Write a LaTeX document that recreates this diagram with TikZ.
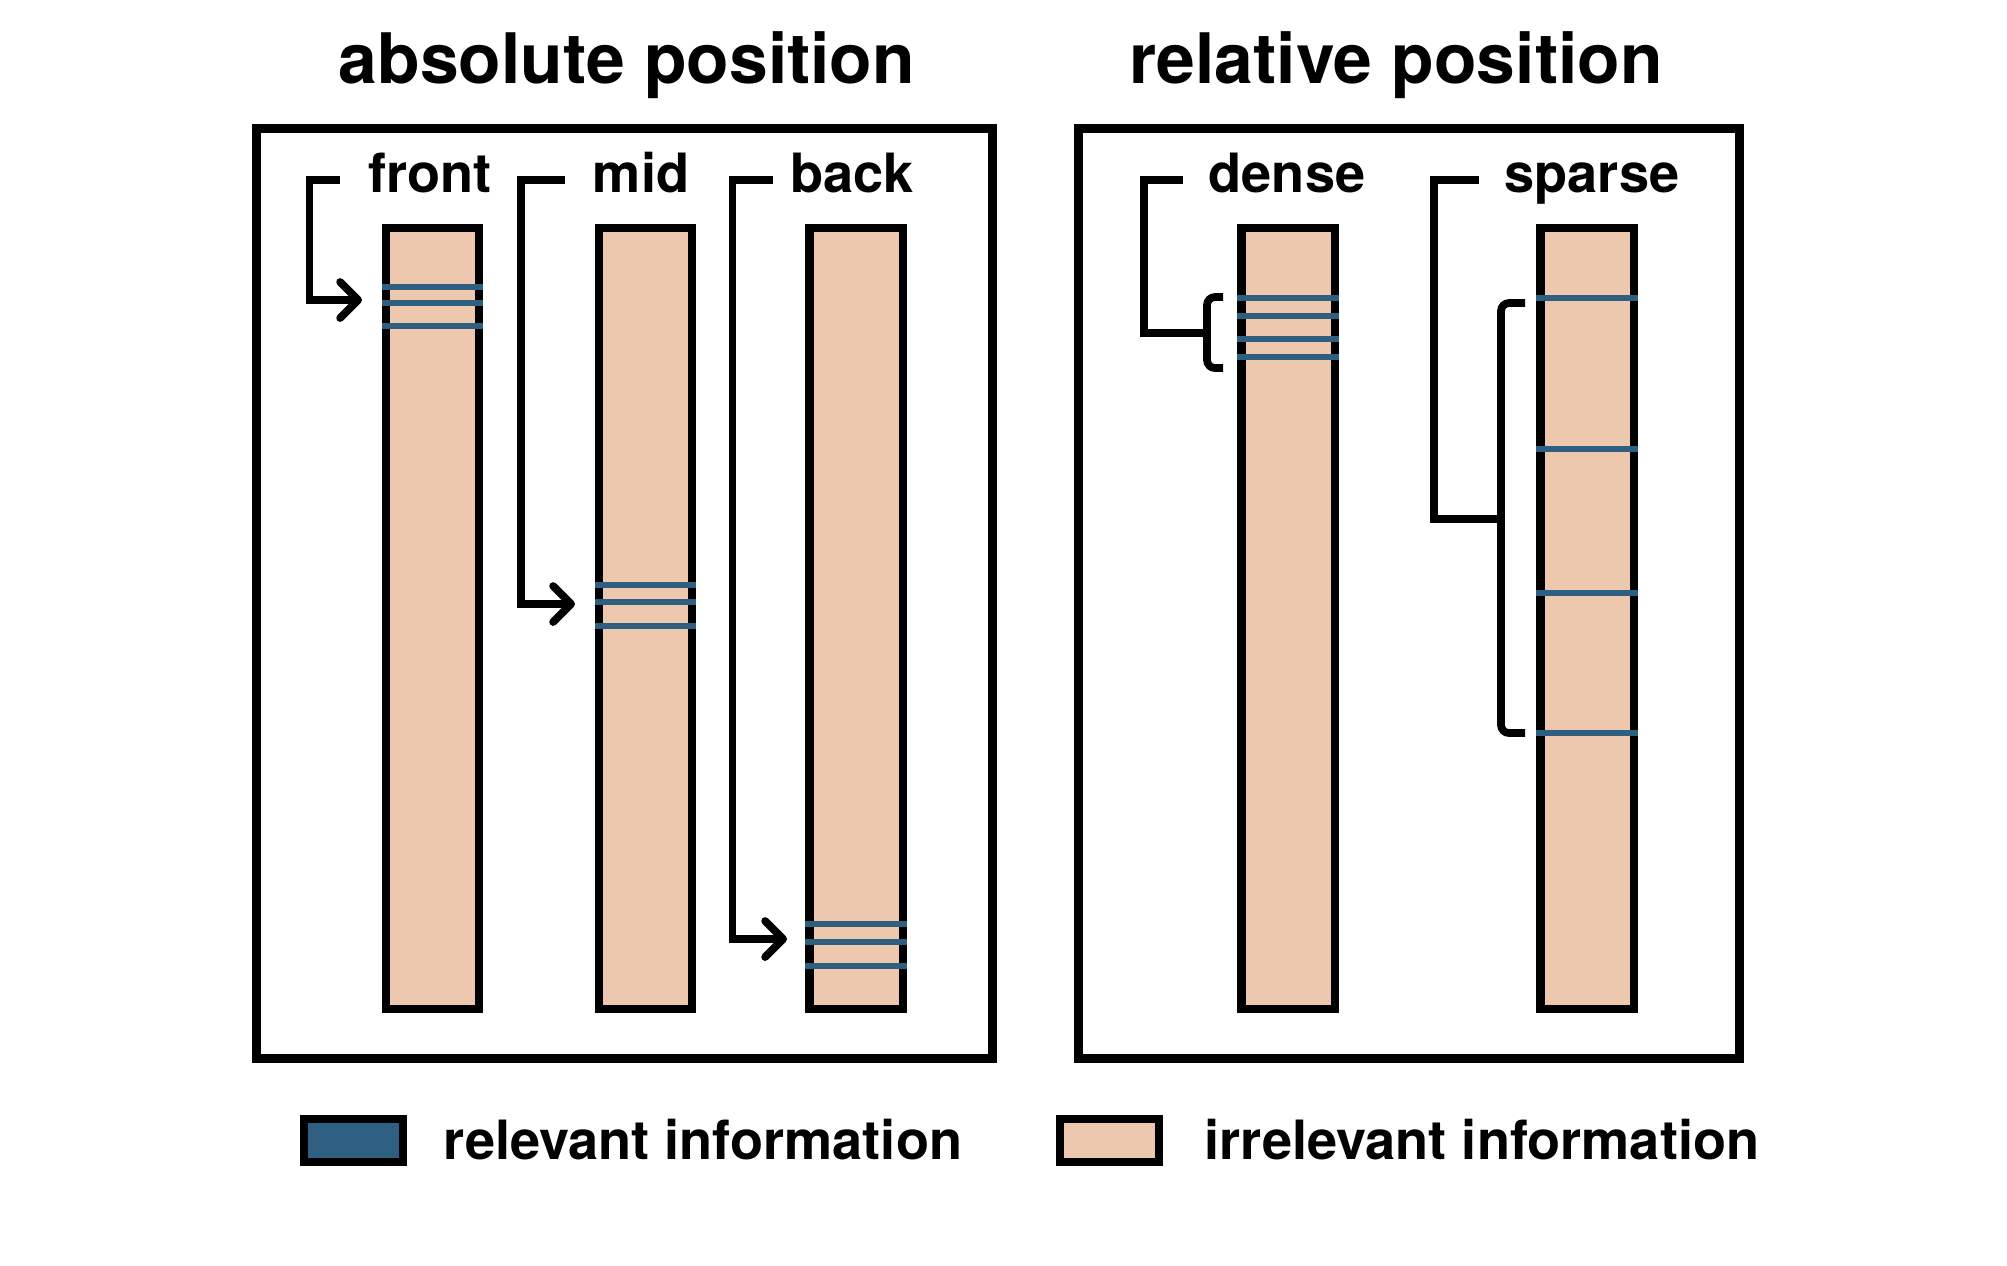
\documentclass[tikz,border=0pt]{standalone}
\usepackage{fontspec}
\setmainfont{TeX Gyre Heros}
\usetikzlibrary{arrows.meta}

\definecolor{relblue}{RGB}{46,94,128}
\definecolor{irrpeach}{RGB}{238,200,174}

\begin{document}
\begin{tikzpicture}
[
	x=0.01cm, y=-0.01cm,
% Panel style
	panel/.style={
		draw,
		line width=2.5pt,
		minimum width=7.35cm,
		minimum height=9.29cm},
% Bar style
	bar/.style={
		draw,
		fill=irrpeach,
		line width=2.3pt,
		minimum width=0.93cm,
		minimum height=7.80cm},
% Relevant line style
	relline/.style={
		relblue,
		line width=1.7pt},
% Connector styles
	conn/.style={
		line width=2.2pt},
	arrowconn/.style={
		conn,
		-{Straight Barb[length=0.18cm, width=0.36cm, round]}},
% Text styles
	title/.style={
		font=\fontsize{19.8}{24}\selectfont\bfseries,
		inner sep=0pt,
		anchor=base},
	lbl/.style={
		font=\fontsize{15.4}{18}\selectfont\bfseries,
		inner sep=0pt,
		anchor=base,
		text height=0.7em,
		text depth=0pt},
% Legend box style
	legbox/.style={
		draw,
		line width=2.5pt,
		minimum width=0.99cm,
		minimum height=0.43cm},
]

\useasboundingbox (0,0) rectangle (2007,1265);

% Panels and titles
\node[panel] (abspanel) at (624.5,593.5) {};
\node[panel, minimum width=6.61cm] (relpanel) at (1409,593.5) {};

\node[title] (abstitle) at (627,83) {absolute position};
\node[title] (reltitle) at (1396,83) {relative position};

% Bars
\node[bar] (front)  at (432.5,618.5) {};
\node[bar] (mid)    at (645.5,618.5) {};
\node[bar] (back)   at (856,618.5) {};
\node[bar] (dense)  at (1288,618.5) {};
\node[bar] (sparse) at (1587,618.5) {};

% Bar labels
\node[lbl] (frontlbl)  at (430,192) {front};
\node[lbl] (midlbl)    at (641,192) {mid};
\node[lbl] (backlbl)   at (852,192) {back};
\node[lbl] (denselbl)  at (1287,192) {dense};
\node[lbl] (sparselbl) at (1592,192) {sparse};

% Relevant information lines
\foreach \y in {287,303,326}
	\draw[relline] (front.west |- 0,\y) -- (front.east |- 0,\y);
\foreach \y in {585,602,626}
	\draw[relline] (mid.west |- 0,\y) -- (mid.east |- 0,\y);
\foreach \y in {924,942,966}
	\draw[relline] (back.west |- 0,\y) -- (back.east |- 0,\y);
\foreach \y in {298,316,339,357}
	\draw[relline] (dense.west |- 0,\y) -- (dense.east |- 0,\y);
\foreach \y in {298,449,593,733}
	\draw[relline] (sparse.west |- 0,\y) -- (sparse.east |- 0,\y);

% Arrow targets
\coordinate (fronthit) at (362,300);
\coordinate (midhit)   at (575,604);
\coordinate (backhit)  at (787,939);

% Absolute position connectors
\draw[arrowconn] ([xshift=-0.28cm]frontlbl.west) -- ++(-30,0) |- (fronthit);
\draw[arrowconn] ([xshift=-0.27cm]midlbl.west) -- ++(-44,0) |- (midhit);
\draw[arrowconn] ([xshift=-0.16cm]backlbl.west) -- ++(-41,0) |- (backhit);

% Brace corners
\coordinate (densetop)  at (1223,297);
\coordinate (densemid)  at (1207,333);
\coordinate (densebot)  at (1223,368);
\coordinate (sparsetop) at (1525,303);
\coordinate (sparsemid) at (1501,519);
\coordinate (sparsebot) at (1525,733);

% Relative position braces
\draw[conn, rounded corners=0.08cm] (densetop) -| (densemid) |- (densebot);
\draw[conn, rounded corners=0.08cm] (sparsetop) -| (sparsemid) |- (sparsebot);

\draw[conn] ([xshift=-0.25cm]denselbl.west) -- ++(-39,0) |- (densemid);
\draw[conn] ([xshift=-0.25cm]sparselbl.west) -- ++(-45,0) |- (sparsemid);

% Legend
\node[legbox, fill=relblue] (relkey) at (353.5,1140.5) {};
\node[lbl, anchor=base west] (relkeylbl) at (443,1159) {relevant information};

\node[legbox, fill=irrpeach] (irrkey) at (1109.5,1140.5) {};
\node[lbl, anchor=base west] (irrkeylbl) at (1204,1159) {irrelevant information};

\end{tikzpicture}
\end{document}
